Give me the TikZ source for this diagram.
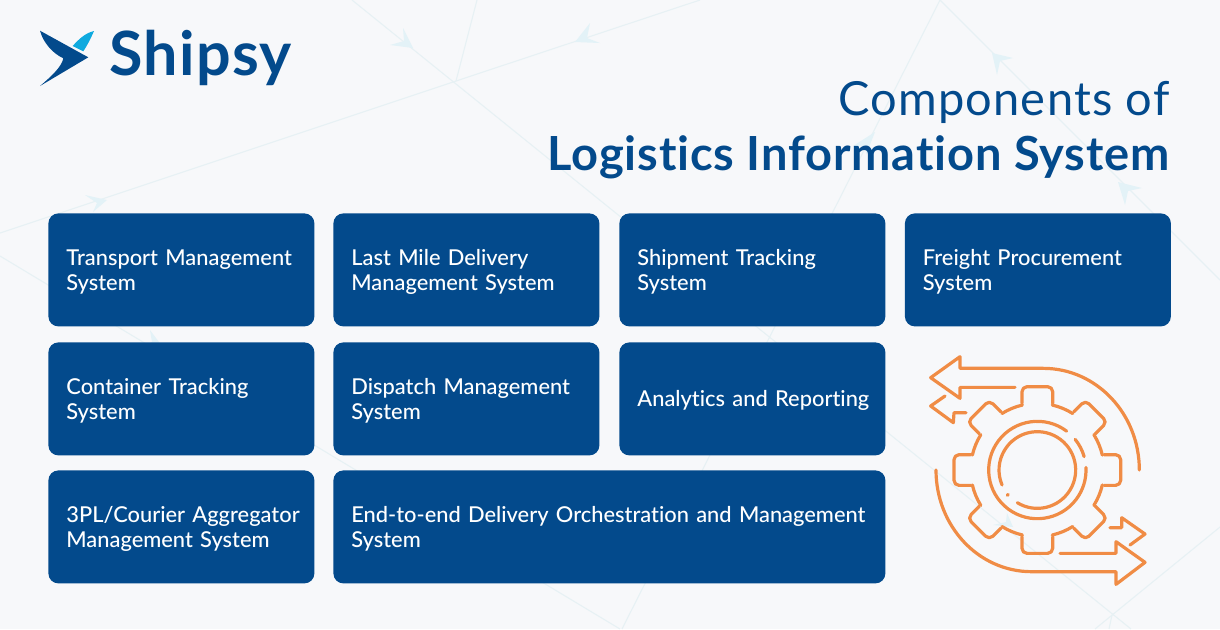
\documentclass[tikz,border=0pt]{standalone}
\usepackage{fontspec}
\setmainfont{Lato}[Ligatures=NoCommon]
\newfontfamily\boxfont{Lato}[UprightFont=* Medium,Ligatures=NoCommon,WordSpace=0.7]
\newfontfamily\logofont{Lato}[LetterSpace=2.2]
\newfontfamily\titlelight{Lato}[LetterSpace=2.6,Ligatures=NoCommon]
\newfontfamily\titlebold{Lato}[LetterSpace=1.85,Ligatures=NoCommon]
\newcommand\boxdrop{\rule{0pt}{10pt}}
\definecolor{bgc}{HTML}{F7F8FA}
\definecolor{navy}{HTML}{034A8C}
\definecolor{skyc}{HTML}{0FAADF}
\definecolor{orangec}{HTML}{F08C45}
\definecolor{linec}{HTML}{E7F1F4}
\definecolor{planec}{HTML}{E3F2F7}
\tikzset{
  x=0.5pt,y=0.5pt,
  bgline/.style={draw=linec,line width=0.55pt},
  plane/.style={fill=planec,draw=none},
  infobox/.style={fill=navy,rounded corners=5pt,inner xsep=9pt,inner ysep=0pt,anchor=north west,
    minimum height=56.5pt,text=white,align=left,font=\boxfont\fontsize{10.92pt}{12.6pt}\selectfont},
  wbox/.style={infobox,minimum width=133pt,text width=115pt},
  iconline/.style={draw=orangec,line width=1.6pt,line cap=round,line join=round},
  titlefont/.style={text=navy,anchor=base east,inner sep=0pt}
}
\begin{document}
\begin{tikzpicture}
\useasboundingbox (0,-629) rectangle (1220,0);
\fill[bgc] (0,-629) rectangle (1220,0);
% background lines
\draw[bgline] (352,0) -- (1131,-629);
\draw[bgline] (0,-233) -- (456,-81) -- (700,0);
\draw[bgline] (477,0) -- (456,-81);
\draw[bgline] (940,0) -- (622,-629);
\draw[bgline] (940,0) -- (1220,-280);
\draw[bgline] (0,-256) -- (620,-629);
\draw[bgline] (1220,-527) -- (1095,-629);
\draw[bgline] (1112,-615) -- (1109,-629);
% background arrowheads
\fill[plane] (413,-48) -- (403,-28) -- (404,-41) -- (390,-45) -- cycle;
\fill[plane] (575,-42) -- (590,-23) -- (587,-38) -- (600,-43) -- cycle;
\fill[plane] (992,-53) -- (1013,-58) -- (1000,-61) -- (997,-75) -- cycle;
\fill[plane] (1118,-182) -- (1142,-188) -- (1128,-191) -- (1125,-205) -- cycle;
\fill[plane] (875,-132) -- (853,-146) -- (866,-146) -- (866,-155) -- cycle;
\fill[plane] (107,-200) -- (85,-195) -- (97,-203) -- (93,-212) -- cycle;
\fill[plane] (165,-350) -- (150,-330) -- (152,-342) -- (140,-348) -- cycle;
\fill[plane] (1013,-527) -- (1007,-513) -- (1006,-522) -- (993,-525) -- cycle;
% logo
\fill[navy] (40,-30.7) -- (88.3,-57.3) -- (40,-86) .. controls (53,-75) and (62,-66) .. (63.3,-58.3) .. controls (52,-53) and (43,-42) .. cycle;
\fill[skyc] (94,-31) .. controls (85,-33) and (78,-40) .. (72.7,-46) -- (83.3,-51.3) .. controls (88,-44) and (91,-38) .. cycle;
\node[inner sep=0pt,anchor=base west,text=navy] (logo) at (109,-75) {\logofont\bfseries\fontsize{30.5pt}{31pt}\selectfont Shipsy};
% title
\node[titlefont] (t1) at (1170,-115) {\titlelight\fontsize{23.5pt}{24pt}\selectfont Components of};
\node[titlefont] (t2) at (1170,-170.5) {\titlebold\bfseries\fontsize{23.5pt}{24pt}\selectfont Logistics Information System};
% boxes
\node[wbox] (b1) at (48,-213) {\boxdrop\mbox{Transport Management}\\System};
\node[wbox] (b2) at (333,-213) {\boxdrop Last Mile Delivery\\Management System};
\node[wbox] (b3) at (619,-213) {\boxdrop Shipment Tracking\\System};
\node[wbox] (b4) at (904.5,-213) {\boxdrop Freight Procurement\\System};
\node[wbox] (b5) at (48,-342) {\boxdrop Container Tracking\\System};
\node[wbox] (b6) at (333,-342) {\boxdrop\mbox{Dispatch Management}\\System};
\node[wbox] (b7) at (619,-342) {\boxdrop\mbox{Analytics and Reporting}};
\node[wbox] (b8) at (48,-470) {\boxdrop\mbox{3PL/Courier Aggregator}\\Management System};
\node[infobox,minimum width=276pt,text width=258pt] (b9) at (333,-470) {\boxdrop\mbox{End-to-end Delivery Orchestration and Management}\\System};
% icon
\begin{scope}[shift={(900,-340)},x=0.16667pt,y=0.16667pt]
  \draw[iconline] (718,-390) .. controls (718,-222) and (590,-85) .. (430,-85) -- (180,-85) -- (180,-50) -- (92,-113) -- (180,-175) -- (180,-142) -- (345,-142);
  \draw[iconline] (135,-168) -- (92,-198) -- (160,-248) -- (162,-218) -- (198,-218);
  \draw[iconline] (108,-390) .. controls (108,-558) and (235,-695) .. (395,-695) -- (648,-695) -- (648,-733) -- (735,-667) -- (648,-605) -- (648,-640) -- (480,-640);
  \draw[iconline] (630,-563) -- (665,-563) -- (665,-533) -- (735,-582) -- (690,-615);
  \begin{scope}[shift={(412,-390)}]
    \foreach \a in {0,45,...,315}{
      \begin{scope}[rotate=\a]
        \draw[iconline,rounded corners=2.5pt] (200,-46) -- (250,-46) -- (250,46) -- (200,46);
        \draw[iconline] (12.95:200) arc[start angle=12.95,end angle=32.05,radius=200];
      \end{scope}
    }
    \draw[iconline] (53:146) arc[start angle=53,end angle=363,radius=146];
    \draw[iconline] (39:146) arc[start angle=39,end angle=16,radius=146];
    \draw[iconline] (238.5:115) arc[start angle=238.5,end angle=563,radius=115];
    \draw[iconline] (220:114) -- (220:118);
  \end{scope}
\end{scope}
\end{tikzpicture}
\end{document}
